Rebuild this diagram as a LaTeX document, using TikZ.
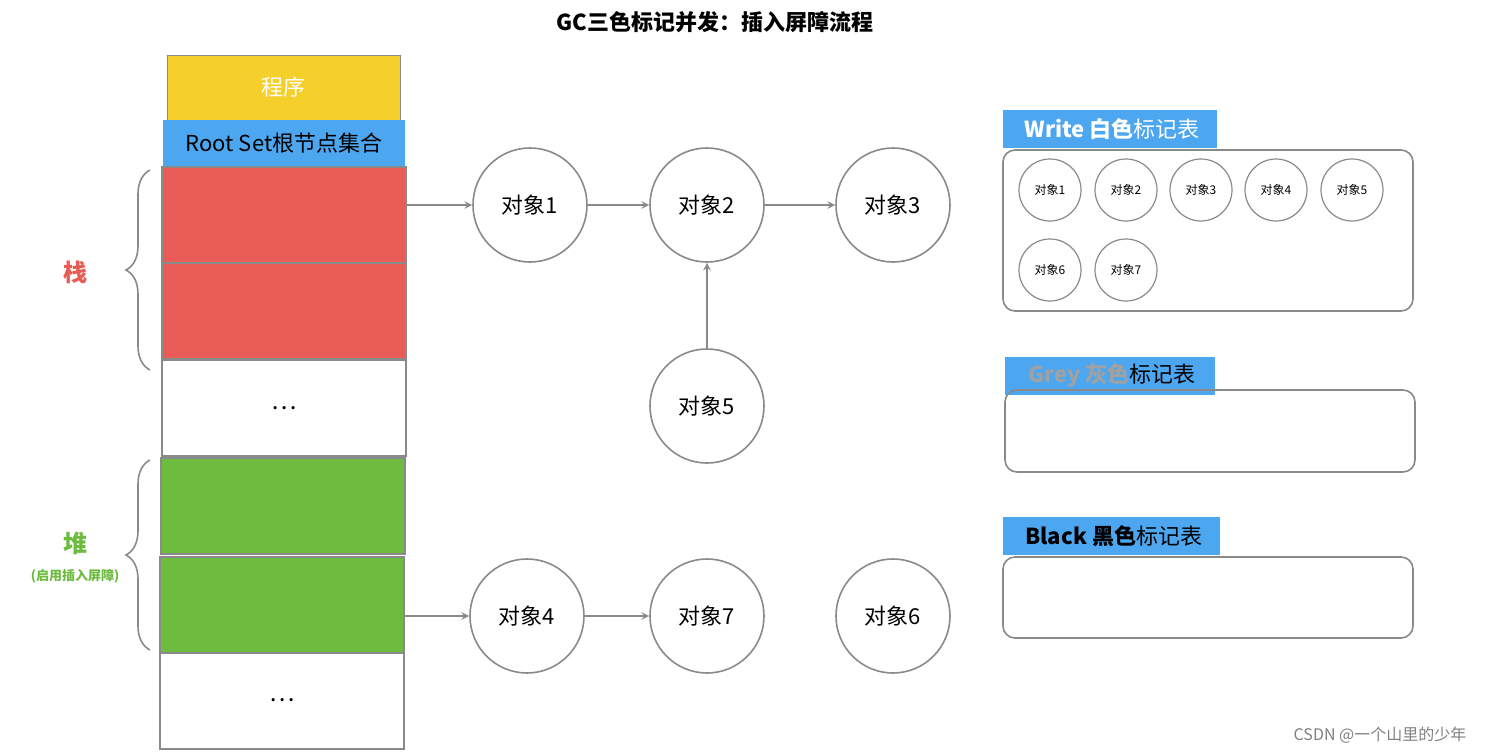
\documentclass[tikz,border=0pt]{standalone}
\usepackage{fontspec}
\setmainfont{Noto Sans CJK SC}
\usetikzlibrary{decorations.pathreplacing}
\definecolor{yel}{HTML}{F5D02A}
\definecolor{blu}{HTML}{4DA6F0}
\definecolor{rd}{HTML}{E85C55}
\definecolor{gr}{HTML}{6DBB3F}
\definecolor{ln}{HTML}{8A8A8A}
\tikzset{
 cell/.style={draw=ln,line width=1pt,minimum width=244*0.5pt,minimum height=96*0.5pt,inner sep=0},
 obj/.style={circle,draw=ln,line width=0.8pt,minimum size=114*0.5pt,inner sep=0,font=\fontsize{11}{11}\selectfont},
 sobj/.style={circle,draw=ln,line width=0.6pt,minimum size=62*0.5pt,inner sep=0,font=\fontsize{6}{6}\selectfont},
 arr/.style={->,>=stealth,draw=ln,line width=0.7pt},
 tab/.style={draw=ln,line width=0.8pt,rounded corners=6pt},
 lab/.style={fill=blu,anchor=north west,inner sep=0,minimum height=38*0.5pt,text height=9pt,font=\bfseries\fontsize{11}{11}\selectfont}
}
\begin{document}
\begin{tikzpicture}[x=0.5pt,y=-0.5pt]
\useasboundingbox (0,0) rectangle (1501,755);
\node[font=\bfseries\fontsize{11}{11}\selectfont] (title) at (715,22) {GC三色标记并发：插入屏障流程};
\node[draw=ln,fill=yel,minimum width=233*0.5pt,minimum height=65*0.5pt,text=white,font=\fontsize{11}{11}\selectfont] (prog) at (283.5,87.5) {程序};
\node[fill=blu,minimum width=242*0.5pt,minimum height=46*0.5pt,inner sep=0,font=\fontsize{11}{11}\selectfont] (root) at (284,143) {Root Set根节点集合};
\node[cell,fill=rd] (r1) at (284,214.5) {};
\node[cell,fill=rd] (r2) at (284,311) {};
\node[cell,fill=white,font=\fontsize{12}{12}\selectfont] (w1) at (284,408) {\dots};
\node[cell,fill=gr] (g1) at (283,505.5) {};
\node[cell,fill=gr] (g2) at (282,605) {};
\node[cell,fill=white,font=\fontsize{12}{12}\selectfont] (w2) at (282,700.5) {\dots};
\coordinate (b1t) at (150,170); \coordinate (b1b) at (150,370);
\draw[ln,line width=0.8pt,decorate,decoration={brace,amplitude=12pt}] (b1b) -- (b1t);
\coordinate (b2t) at (150,460); \coordinate (b2b) at (150,650);
\draw[ln,line width=0.8pt,decorate,decoration={brace,amplitude=12pt}] (b2b) -- (b2t);
\node[text=rd,font=\bfseries\fontsize{12}{12}\selectfont] (zhan) at (75,272) {栈};
\node[text=gr,font=\bfseries\fontsize{12}{12}\selectfont] (dui) at (75,543) {堆};
\node[text=gr,font=\bfseries\fontsize{6.5}{6.5}\selectfont] (dui2) at (75,576) {(启用插入屏障)};
\node[obj] (o1) at (530,205) {对象1};
\node[obj] (o2) at (707,205) {对象2};
\node[obj] (o3) at (893,205) {对象3};
\node[obj] (o5) at (707,406) {对象5};
\node[obj] (o4) at (527,616) {对象4};
\node[obj] (o7) at (707,616) {对象7};
\node[obj] (o6) at (893,616) {对象6};
\draw[arr] (r1.east |- o1) -- (o1);
\draw[arr] (o1) -- (o2);
\draw[arr] (o2) -- (o3);
\draw[arr] (o5) -- (o2);
\draw[arr] (g2.east |- o4) -- (o4);
\draw[arr] (o4) -- (o7);
% tables
\node[lab,minimum width=214*0.5pt,text=white] (lw) at (1003,110) {\,Write 白色\mdseries 标记表};
\draw[tab] (1003,150) rectangle (1413,311);
\node[lab,minimum width=210*0.5pt,text=ln!80] (lg) at (1005,357) {\,Grey 灰色\mdseries\color{black}标记表};
\draw[tab] (1005,390) rectangle (1415,472);
\node[lab,minimum width=217*0.5pt,text=black] (lb) at (1003,517) {\,Black 黑色\mdseries 标记表};
\draw[tab] (1003,557) rectangle (1413,638);
\node[sobj] (s1) at (1050,190) {对象1};
\node[sobj] (s2) at (1126,190) {对象2};
\node[sobj] (s3) at (1201,190) {对象3};
\node[sobj] (s4) at (1276,190) {对象4};
\node[sobj] (s5) at (1352,190) {对象5};
\node[sobj] (s6) at (1050,270) {对象6};
\node[sobj] (s7) at (1126,270) {对象7};
\node[text=gray,font=\fontsize{8}{8}\selectfont] (wm) at (1380,735) {CSDN @一个山里的少年};
\end{tikzpicture}
\end{document}
